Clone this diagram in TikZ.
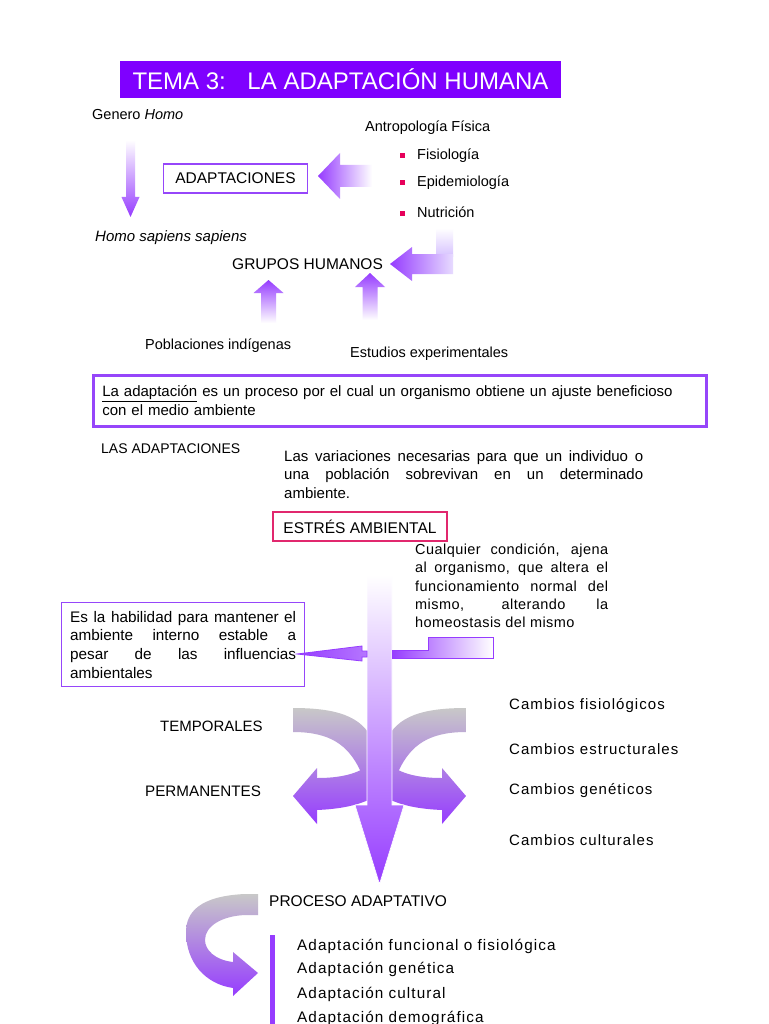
\documentclass[tikz,border=0pt]{standalone}
\usepackage{fontspec}
\setmainfont{Liberation Sans}
\newfontfamily\spacedfont[LetterSpace=7]{Liberation Sans}
\newfontfamily\lightspaced[LetterSpace=3]{Liberation Sans}
\hyphenpenalty=10000
\exhyphenpenalty=10000
\definecolor{tpurple}{RGB}{127,0,255}
\definecolor{bpurple}{RGB}{150,70,250}
\definecolor{apurple}{RGB}{150,60,255}
\definecolor{lpurple}{RGB}{215,195,255}
\definecolor{spink}{RGB}{225,40,110}
\definecolor{bulletpink}{RGB}{230,0,90}
\definecolor{rgray}{RGB}{200,200,200}
\begin{document}
\begin{tikzpicture}[x=1pt,y=-1pt,
  txt/.style={anchor=base west, inner sep=0pt, font=\fontsize{14.5}{17}\selectfont},
  bigtxt/.style={anchor=base west, inner sep=0pt, font=\fontsize{15.5}{18}\selectfont},
  sptxt/.style={anchor=base west, inner sep=0pt, font=\spacedfont\fontsize{15}{18}\selectfont},
  para/.style={anchor=north west, inner sep=0pt, align=justify},
  fadeline/.style={draw=white, line width=0.6pt},
  thinarrow/.style={draw=apurple, line width=0.8pt},
  bullet/.style={fill=bulletpink}
]
\useasboundingbox (0,0) rectangle (768,1024);
\fill[white] (0,0) rectangle (768,1024);

% title
\node[fill=tpurple, minimum width=441pt, minimum height=37pt, inner sep=0pt, text=white,
  font=\fontsize{24}{28}\selectfont] (title) at (340.5,79.5) {TEMA 3:\hspace{0.9em}LA ADAPTACIÓN HUMANA};

% top-left
\node[txt] (genero) at (92,120) {Genero \textit{Homo}};
\shade[top color=white, bottom color=apurple] (126,140) -- (135,140) -- (135,197) -- (139.5,197) -- (130.5,217) -- (121.5,197) -- (126,197) -- cycle;
\node[txt, font=\fontsize{15}{17}\selectfont\itshape] (hss) at (95,241) {Homo sapiens sapiens};

\node[draw=bpurple, line width=1.5pt, minimum width=144pt, minimum height=29pt, inner sep=0pt,
  font=\fontsize{15.5}{18}\selectfont] (adapt) at (235.5,178.5) {ADAPTACIONES};
\shade[left color=apurple, right color=white] (318,176) -- (340,153) -- (340,165) -- (372,165) -- (372,187) -- (340,187) -- (340,199) -- cycle;

\node[txt] (antro) at (365,132) {Antropología Física};
\fill[bullet] (400,153.5) rectangle (405,158.5);
\node[txt] (fisio) at (417,160) {Fisiología};
\fill[bullet] (400,180.5) rectangle (405,185.5);
\node[txt] (epi) at (417,187) {Epidemiología};
\fill[bullet] (400,211.5) rectangle (405,216.5);
\node[txt] (nutri) at (417,218) {Nutrición};

% L arrow
\shade[top color=white, bottom color=lpurple] (436,228) rectangle (453,256);
\shade[left color=apurple, right color=lpurple!60] (390,264) -- (412,247) -- (412,254) -- (436,254) -- (453,254) -- (453,274) -- (412,274) -- (412,281) -- cycle;

\node[bigtxt] (grupos) at (232,269) {GRUPOS HUMANOS};
\shade[top color=apurple, bottom color=white] (268.5,280) -- (283.5,293) -- (276,293) -- (276,323) -- (261,323) -- (261,293) -- (253.5,293) -- cycle;
\shade[top color=apurple, bottom color=white] (370,273) -- (385,287) -- (377.5,287) -- (377.5,320) -- (362.5,320) -- (362.5,287) -- (355,287) -- cycle;
\node[txt] (pobl) at (145,349) {Poblaciones indígenas};
\node[txt] (estud) at (350,357) {Estudios experimentales};

% definition
\node[draw=bpurple, line width=2.5pt, anchor=north west, minimum width=613pt, minimum height=51pt,
  text width=595pt, inner xsep=9pt, inner ysep=0pt, align=left, font=\fontsize{15}{19}\selectfont]
  (def) at (92,374) {\underline{La adaptación} es un proceso por el cual un organismo obtiene un ajuste beneficioso\\con el medio ambiente};

\node[txt, font=\fontsize{14}{17}\selectfont] (lasad) at (101,453) {LAS ADAPTACIONES};
\node[para, text width=359pt, font=\fontsize{15}{18.3}\selectfont] (variac) at (284,450.5) {Las variaciones necesarias para que un individuo o\linebreak una población sobrevivan en un determinado\linebreak ambiente.};

\node[draw=spink, line width=1.3pt, minimum width=174pt, minimum height=29pt, inner sep=0pt,
  font=\fontsize{15.5}{18}\selectfont] (estres) at (360,526.5) {ESTRÉS AMBIENTAL};

\node[para, text width=193pt, font=\lightspaced\fontsize{14.5}{18.4}\selectfont] (cualq) at (415,543.5) {Cualquier condición, ajena\linebreak al organismo, que altera el\linebreak funcionamiento normal del\linebreak mismo, alterando la\linebreak homeostasis del mismo};

\node[draw=bpurple, line width=1.3pt, anchor=north west, minimum width=243pt, minimum height=84pt,
  text width=226pt, inner xsep=8.5pt, inner ysep=0pt, align=justify,
  font=\fontsize{15.3}{18.7}\selectfont]
  (habil) at (61,602) {Es la habilidad para mantener el\linebreak ambiente interno estable a\linebreak pesar de las influencias\linebreak ambientales};

% crossing bands
\shade[top color=rgray, middle color=lpurple!80!rgray, bottom color=apurple]
  (293,708) .. controls (345,708) and (365,720) .. (375,745) .. controls (385,768) and (405,778) .. (442,778)
  -- (442,768) -- (466,796) -- (442,824) -- (442,810)
  .. controls (395,808) and (372,795) .. (360,770) .. controls (348,745) and (330,732) .. (293,732) -- cycle;
\shade[top color=rgray, middle color=lpurple!80!rgray, bottom color=apurple]
  (466,708) .. controls (414,708) and (394,720) .. (384,745) .. controls (374,768) and (354,778) .. (317,778)
  -- (317,768) -- (293,796) -- (317,824) -- (317,810)
  .. controls (364,808) and (387,795) .. (399,770) .. controls (411,745) and (429,732) .. (466,732) -- cycle;

% main down arrow
\shade[top color=white, middle color=lpurple, bottom color=apurple, fadeline]
  (367,575) -- (392,575) -- (392,805) -- (404,805) -- (379.5,884) -- (355,805) -- (367,805) -- cycle;

% thin arrows
\shade[left color=apurple, right color=apurple!70, thinarrow]
  (297,654) -- (362,646) -- (362,651) -- (367,651) -- (367,657) -- (362,657) -- (362,661) -- cycle;
\shade[left color=apurple, right color=white, thinarrow]
  (392,650) -- (428,650) -- (428,637) -- (493,637) -- (493,658) -- (392,658) -- cycle;

\node[bigtxt, font=\fontsize{15}{18}\selectfont] (temp) at (160,731) {TEMPORALES};
\node[bigtxt, font=\fontsize{15.2}{18}\selectfont] (perm) at (145,796) {PERMANENTES};
\node[sptxt] (cfis) at (509,709) {Cambios fisiológicos};
\node[sptxt] (cest) at (509,754) {Cambios estructurales};
\node[sptxt] (cgen) at (509,794) {Cambios genéticos};
\node[sptxt] (ccul) at (509,845) {Cambios culturales};

% bottom
\node[bigtxt] (proc) at (269,906) {PROCESO ADAPTATIVO};
\shade[top color=rgray, middle color=lpurple!80!rgray, bottom color=apurple]
  (258,894) -- (245,894) .. controls (200,896) and (186,912) .. (186,932)
  .. controls (186,962) and (205,984) .. (233,988) -- (233,996) -- (258,973) -- (233,952) -- (233,962)
  .. controls (215,960) and (205,950) .. (205,940) .. controls (205,926) and (222,916) .. (245,915) -- (258,915) -- cycle;
\fill[apurple] (270,935) rectangle (275,1024);
\node[sptxt, font=\spacedfont\fontsize{15.3}{18}\selectfont] (a1) at (297,950) {Adaptación funcional o fisiológica};
\node[sptxt, font=\spacedfont\fontsize{15.3}{18}\selectfont] (a2) at (297,973) {Adaptación genética};
\node[sptxt, font=\spacedfont\fontsize{15.3}{18}\selectfont] (a3) at (297,998) {Adaptación cultural};
\node[sptxt, font=\spacedfont\fontsize{15.3}{18}\selectfont] (a4) at (297,1022) {Adaptación demográfica};
\end{tikzpicture}
\end{document}
